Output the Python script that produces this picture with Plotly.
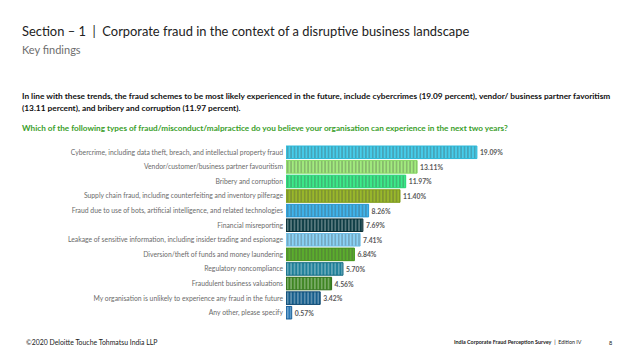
import plotly.graph_objects as go

categories = [
    "Cybercrime, including data theft, breach, and intellectual property fraud",
    "Vendor/customer/business partner favouritism",
    "Bribery and corruption",
    "Supply chain fraud, including counterfeiting and inventory pilferage",
    "Fraud due to use of bots, artificial intelligence, and related technologies",
    "Financial misreporting",
    "Leakage of sensitive information, including insider trading and espionage",
    "Diversion/theft of funds and money laundering",
    "Regulatory noncompliance",
    "Fraudulent business valuations",
    "My organisation is unlikely to experience any fraud in the future",
    "Any other, please specify",
]
values = [19.09, 13.11, 11.97, 11.40, 8.26, 7.69, 7.41, 6.84, 5.70, 4.56, 3.42, 0.57]
colors = ["#45CDEB", "#A2EC7E", "#3BEB8A", "#99B82A", "#3FB4EC", "#0E3D45",
          "#8AD3F7", "#5BAE2C", "#1F8099", "#3E8522", "#165E8C", "#2A78B5"]
edges = ["#2BB8D8", "#86D863", "#22D473", "#7E9C16", "#2798D2", "#082B31",
         "#6DBCE6", "#44941A", "#146A82", "#2C6B14", "#0E4870", "#1A5F98"]

FONT = "Lato"

fig = go.Figure(go.Bar(
    x=values, y=categories, orientation="h",
    marker=dict(color=colors, line=dict(color=edges, width=1),
                pattern=dict(shape="|", fgcolor="rgba(255,255,255,0.6)",
                             size=3.4, solidity=0.3, fillmode="overlay")),
    texttemplate="<b>%{x:.2f}%</b>", textposition="outside",
    textfont=dict(size=6.8, color="#595959", family=FONT),
    cliponaxis=False,
))

fig.update_layout(
    width=638, height=359,
    margin=dict(l=286, r=52, t=145, b=39),
    paper_bgcolor="white", plot_bgcolor="white",
    showlegend=False, bargap=0.14,
    xaxis=dict(range=[0, 30], visible=False),
    yaxis=dict(autorange="reversed", showgrid=False, zeroline=False, showline=False,
               ticks="", ticklabelstandoff=2,
               tickfont=dict(size=6.8, color="#6B6B6B", family=FONT)),
)

def ann(x, y, text, size, color, xanchor="left"):
    fig.add_annotation(x=x, y=y, xref="paper", yref="paper", text=text, showarrow=False,
                       xanchor=xanchor, yanchor="middle", align="left",
                       font=dict(size=size, color=color, family=FONT))

def px(xp, yp):
    return (xp - 286) / 300, (359 - 39 - yp) / 175

x, y = px(20, 31)
ann(x, y, "Section – 1  |  Corporate fraud in the context of a disruptive business landscape", 12.9, "#222222")
x, y = px(20, 49)
ann(x, y, "Key findings", 11, "#6E6E6E")
x, y = px(20, 96)
ann(x, y, "<b>In line with these trends, the fraud schemes to be most likely experienced in the future, include cybercrimes (19.09 percent), vendor/ business partner favoritism</b>", 8.3, "#111111")
x, y = px(20, 108)
ann(x, y, "<b>(13.11 percent), and bribery and corruption (11.97 percent).</b>", 8.3, "#111111")
x, y = px(20, 128)
ann(x, y, "<b>Which of the following types of fraud/misconduct/malpractice do you believe your organisation can experience in the next two years?</b>", 8.2, "#3A9E2A")
x, y = px(24, 342)
ann(x, y, "©2020 Deloitte Touche Tohmatsu India LLP", 6.9, "#222222")
x, y = px(584, 342)
ann(x, y, "<b>India Corporate Fraud Perception Survey</b>  |  Edition IV", 5.4, "#222222", xanchor="right")
x, y = px(614, 342)
ann(x, y, "8", 5.6, "#222222", xanchor="right")

fig.write_html("out.html", config={"displayModeBar": False},
               post_script="document.body.style.margin='0';")
